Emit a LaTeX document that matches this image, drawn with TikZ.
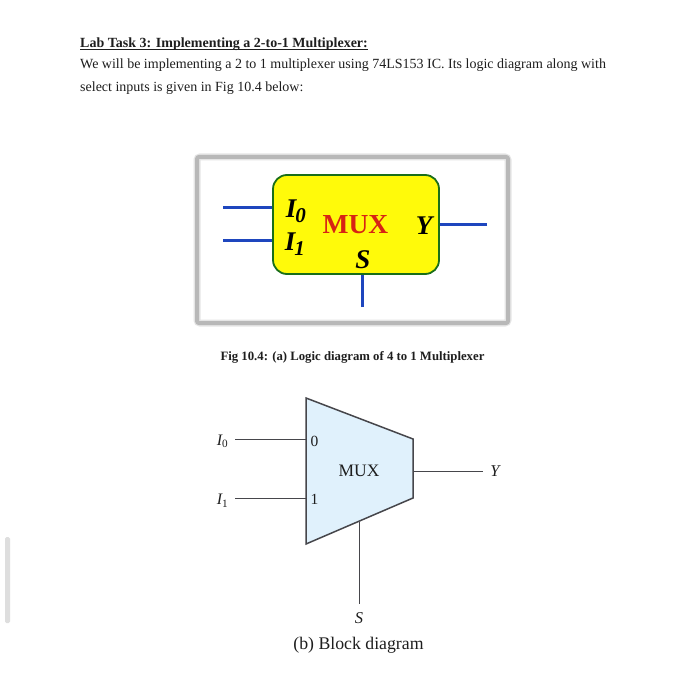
\documentclass[tikz,border=0pt]{standalone}
\usepackage{fontspec}
\setmainfont{Liberation Serif}
\definecolor{wireblue}{RGB}{30,70,190}
\definecolor{boxgreen}{RGB}{25,110,25}
\definecolor{muxyellow}{RGB}{255,250,10}
\definecolor{muxred}{RGB}{215,35,20}
\definecolor{muxblue}{RGB}{224,241,252}
\definecolor{edgegrey}{RGB}{70,70,75}
\definecolor{txt}{RGB}{30,30,30}
\tikzset{
  x=1pt,y=-1pt,
  body/.style={anchor=base west,inner sep=0pt,text=txt,font=\fontsize{14}{16}\selectfont},
  bluewire/.style={draw=wireblue,line width=3pt},
  greywire/.style={draw=edgegrey,line width=1pt},
  biglabel/.style={inner sep=0pt,font=\fontsize{27}{29}\selectfont\bfseries\itshape,text=black},
  smalllabel/.style={inner sep=0pt,text=txt}
}
\begin{document}
\begin{tikzpicture}
\useasboundingbox (0,0) rectangle (676,700);
\fill[white] (0,0) rectangle (676,700);
% scrollbar mark
\fill[black!13,rounded corners=1.5pt] (5,537) rectangle (10,623);
% text
\node[body,font=\fontsize{14}{16}\selectfont\bfseries] (title) at (80,47.5) {Lab Task 3: Implementing a 2-to-1 Multiplexer:};
\draw[txt,line width=1pt] (title.base west)++(0,2) -- ([yshift=-2pt]title.base east);
\node[body] (l1) at (80,69) {We will be implementing a 2 to 1 multiplexer using 74LS153 IC. Its logic diagram along with};
\node[body] (l2) at (80,92) {select inputs is given in Fig 10.4 below:};
% top figure
\draw[black!10,line width=7pt,rounded corners=3pt] (197,157) rectangle (508,323);
\draw[black!28,line width=4pt,rounded corners=2pt] (197,157) rectangle (508,323);
\node[draw=boxgreen,fill=muxyellow,line width=1.8pt,rounded corners=14pt,minimum width=166pt,minimum height=99pt,inner sep=0pt] (ybox) at (356,224.5) {};
\coordinate (a0) at (223,208);
\coordinate (a1) at (223,241);
\coordinate (ay) at (487,225);
\coordinate (as) at (362,307);
\draw[bluewire] (a0) -- (a0 -| ybox.west);
\draw[bluewire] (a1) -- (a1 -| ybox.west);
\draw[bluewire] (ay) -- (ay -| ybox.east);
\draw[bluewire] (as) -- (as |- ybox.south);
\node[biglabel] (ti0) at (296,211) {I\textsubscript{\kern-1pt\fontsize{21}{22}\selectfont 0}};
\node[biglabel] (ti1) at (295,244) {I\textsubscript{\kern-1pt\fontsize{21}{22}\selectfont 1}};
\node[inner sep=0pt,text=muxred,font=\fontsize{27.5}{30}\selectfont\bfseries] (tmux) at (355.5,225) {MUX};
\node[biglabel] (ty) at (424,226) {Y};
\node[biglabel] (ts) at (363,260) {S};
\node[inner sep=0pt,font=\fontsize{12.75}{15}\selectfont\bfseries,text=txt] (cap1) at (352.5,357.5) {Fig 10.4: (a) Logic diagram of 4 to 1 Multiplexer};
% bottom figure
\coordinate (p1) at (306,398);
\coordinate (p2) at (413,439);
\coordinate (p3) at (413,498);
\coordinate (p4) at (306,544);
\coordinate (b0) at (235,439);
\coordinate (b1) at (235,498);
\coordinate (by) at (483,471);
\coordinate (bsin) at (359,522);
\coordinate (bs) at (359,604);
\coordinate (ep0) at (306,439);
\coordinate (ep1) at (306,498);
\coordinate (epy) at (413,471);
\draw[greywire] (b0) -- (ep0);
\draw[greywire] (b1) -- (ep1);
\draw[greywire] (epy) -- (by);
\draw[greywire] (bsin) -- (bs);
\draw[draw=edgegrey,fill=muxblue,line width=1.5pt,line join=miter] (p1) -- (p2) -- (p3) -- (p4) -- cycle;
\node[smalllabel,font=\fontsize{17.5}{19}\selectfont] (bmux) at (359,471) {MUX};
\node[smalllabel,font=\fontsize{15.5}{17}\selectfont] (n0) at (314.5,441) {0};
\node[smalllabel,font=\fontsize{15.5}{17}\selectfont] (n1) at (314.5,499) {1};
\node[smalllabel,font=\fontsize{16}{18}\selectfont\itshape] (li0) at (222.5,441.5) {I\textsubscript{\upshape 0}};
\node[smalllabel,font=\fontsize{16}{18}\selectfont\itshape] (li1) at (222.5,500.5) {I\textsubscript{\upshape 1}};
\node[smalllabel,font=\fontsize{16.5}{18}\selectfont\itshape] (ly) at (495,471) {Y};
\node[smalllabel,font=\fontsize{16.5}{18}\selectfont\itshape] (ls) at (359,618) {S};
\node[smalllabel,font=\fontsize{17.75}{19}\selectfont] (cap2) at (358.5,645) {(b) Block diagram};
\end{tikzpicture}
\end{document}
